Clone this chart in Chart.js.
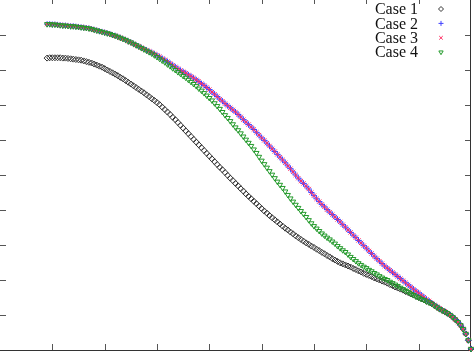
<!DOCTYPE html>
<html>
<head>
<meta charset="utf-8">
<script src="https://cdn.jsdelivr.net/npm/chart.js@4.4.1/dist/chart.umd.min.js"></script>
<style>
  html, body { margin: 0; padding: 0; background: #fff; }
  canvas { display: block; }
</style>
</head>
<body>
<canvas id="chart" width="474" height="353"></canvas>
<script>
// Sample positions along x (shared by all cases)
const xValues = [
    0.90, 0.95, 1.00, 1.05, 1.10, 1.15, 1.20, 1.25, 1.30, 1.35, 1.40, 1.45, 1.50, 1.55, 1.60, 1.65, 1.70, 1.75, 1.80, 1.85, 1.90, 1.95,
    2.00, 2.05, 2.10, 2.15, 2.20, 2.25, 2.30, 2.35, 2.40, 2.45, 2.50, 2.55, 2.60, 2.65, 2.70, 2.75, 2.80, 2.85, 2.90, 2.95,
    3.00, 3.05, 3.10, 3.15, 3.20, 3.25, 3.30, 3.35, 3.40, 3.45, 3.50, 3.55, 3.60, 3.65, 3.70, 3.75, 3.80, 3.85, 3.90, 3.95,
    4.00, 4.05, 4.10, 4.15, 4.20, 4.25, 4.30, 4.35, 4.40, 4.45, 4.50, 4.55, 4.60, 4.65, 4.70, 4.75, 4.80, 4.85, 4.90, 4.95,
    5.00, 5.05, 5.10, 5.15, 5.20, 5.25, 5.30, 5.35, 5.40, 5.45, 5.50, 5.55, 5.60, 5.65, 5.70, 5.75, 5.80, 5.85, 5.90, 5.95,
    6.00, 6.05, 6.10, 6.15, 6.20, 6.25, 6.30, 6.35, 6.40, 6.45, 6.50, 6.55, 6.60, 6.65, 6.70, 6.75, 6.80, 6.85, 6.90, 6.95,
    7.00, 7.05, 7.10, 7.15, 7.20, 7.25, 7.30, 7.35, 7.40, 7.45, 7.50, 7.55, 7.60, 7.65, 7.70, 7.75, 7.80, 7.85, 7.90, 7.95,
    8.00, 8.05, 8.10, 8.15, 8.20, 8.25, 8.30, 8.35, 8.40, 8.45, 8.50, 8.55, 8.60, 8.65, 8.70, 8.75, 8.80, 8.85, 8.90, 8.95,
    9.00
];

const case1Y = [
    8.34, 8.35, 8.35, 8.35, 8.35, 8.35, 8.34, 8.34, 8.33, 8.32, 8.31, 8.30, 8.29, 8.28, 8.26, 8.24, 8.22, 8.20, 8.17, 8.14, 8.11, 8.08,
    8.04, 8.00, 7.96, 7.92, 7.88, 7.84, 7.79, 7.75, 7.70, 7.65, 7.60, 7.55, 7.50, 7.45, 7.40, 7.35, 7.29, 7.24, 7.18, 7.13,
    7.07, 7.01, 6.94, 6.87, 6.80, 6.73, 6.65, 6.58, 6.50, 6.42, 6.34, 6.26, 6.18, 6.10, 6.02, 5.94, 5.86, 5.78, 5.70, 5.62,
    5.54, 5.46, 5.38, 5.30, 5.22, 5.15, 5.07, 4.99, 4.91, 4.84, 4.76, 4.69, 4.61, 4.54, 4.46, 4.39, 4.32, 4.25, 4.18, 4.11,
    4.04, 3.97, 3.91, 3.84, 3.78, 3.72, 3.66, 3.60, 3.54, 3.48, 3.43, 3.37, 3.32, 3.26, 3.21, 3.16, 3.11, 3.06, 3.02, 2.97,
    2.93, 2.88, 2.84, 2.79, 2.75, 2.70, 2.66, 2.61, 2.57, 2.53, 2.49, 2.46, 2.43, 2.40, 2.37, 2.33, 2.30, 2.26, 2.23, 2.19,
    2.16, 2.13, 2.10, 2.06, 2.03, 2.00, 1.97, 1.94, 1.91, 1.87, 1.84, 1.80, 1.77, 1.74, 1.71, 1.67, 1.64, 1.60, 1.57, 1.53,
    1.50, 1.46, 1.43, 1.39, 1.36, 1.32, 1.27, 1.22, 1.17, 1.13, 1.09, 1.05, 1.00, 0.94, 0.87, 0.80, 0.71, 0.60, 0.46, 0.28,
    0.03
];

const case2Y = [
    9.31, 9.31, 9.30, 9.30, 9.29, 9.28, 9.27, 9.27, 9.26, 9.25, 9.25, 9.24, 9.23, 9.22, 9.21, 9.20, 9.19, 9.17, 9.15, 9.13, 9.11, 9.09,
    9.07, 9.05, 9.03, 9.00, 8.98, 8.95, 8.92, 8.89, 8.86, 8.82, 8.79, 8.75, 8.71, 8.68, 8.64, 8.60, 8.57, 8.53, 8.50, 8.46,
    8.42, 8.38, 8.33, 8.29, 8.24, 8.19, 8.14, 8.09, 8.04, 7.99, 7.95, 7.91, 7.86, 7.82, 7.77, 7.72, 7.67, 7.61, 7.56, 7.50,
    7.44, 7.37, 7.31, 7.24, 7.17, 7.11, 7.04, 6.98, 6.92, 6.86, 6.80, 6.73, 6.66, 6.58, 6.51, 6.44, 6.37, 6.30, 6.22, 6.14,
    6.06, 5.99, 5.91, 5.83, 5.75, 5.67, 5.59, 5.51, 5.43, 5.35, 5.26, 5.18, 5.09, 5.00, 4.91, 4.83, 4.76, 4.68, 4.60, 4.50,
    4.41, 4.32, 4.24, 4.16, 4.09, 4.01, 3.94, 3.87, 3.80, 3.73, 3.66, 3.58, 3.51, 3.43, 3.36, 3.28, 3.21, 3.13, 3.06, 2.98,
    2.91, 2.83, 2.76, 2.68, 2.61, 2.54, 2.47, 2.40, 2.34, 2.28, 2.22, 2.16, 2.10, 2.04, 1.98, 1.92, 1.86, 1.80, 1.74, 1.68,
    1.63, 1.57, 1.51, 1.45, 1.40, 1.34, 1.29, 1.24, 1.19, 1.14, 1.10, 1.05, 1.00, 0.94, 0.87, 0.80, 0.71, 0.60, 0.46, 0.28,
    0.03
];

// Case 3 lies on top of case 2 over the whole range
const case3Y = [
    9.31, 9.31, 9.30, 9.30, 9.29, 9.28, 9.27, 9.27, 9.26, 9.25, 9.25, 9.24, 9.23, 9.22, 9.21, 9.20, 9.19, 9.17, 9.15, 9.13, 9.11, 9.09,
    9.07, 9.05, 9.03, 9.00, 8.98, 8.95, 8.92, 8.89, 8.86, 8.82, 8.79, 8.75, 8.71, 8.68, 8.64, 8.60, 8.57, 8.53, 8.50, 8.46,
    8.42, 8.38, 8.33, 8.29, 8.24, 8.19, 8.14, 8.09, 8.04, 7.99, 7.95, 7.91, 7.86, 7.82, 7.77, 7.72, 7.67, 7.61, 7.56, 7.50,
    7.44, 7.37, 7.31, 7.24, 7.17, 7.11, 7.04, 6.98, 6.92, 6.86, 6.80, 6.73, 6.66, 6.58, 6.51, 6.44, 6.37, 6.30, 6.22, 6.14,
    6.06, 5.99, 5.91, 5.83, 5.75, 5.67, 5.59, 5.51, 5.43, 5.35, 5.26, 5.18, 5.09, 5.00, 4.91, 4.83, 4.76, 4.68, 4.60, 4.50,
    4.41, 4.32, 4.24, 4.16, 4.09, 4.01, 3.94, 3.87, 3.80, 3.73, 3.66, 3.58, 3.51, 3.43, 3.36, 3.28, 3.21, 3.13, 3.06, 2.98,
    2.91, 2.83, 2.76, 2.68, 2.61, 2.54, 2.47, 2.40, 2.34, 2.28, 2.22, 2.16, 2.10, 2.04, 1.98, 1.92, 1.86, 1.80, 1.74, 1.68,
    1.63, 1.57, 1.51, 1.45, 1.40, 1.34, 1.29, 1.24, 1.19, 1.14, 1.10, 1.05, 1.00, 0.94, 0.87, 0.80, 0.71, 0.60, 0.46, 0.28,
    0.03
];

const case4Y = [
    9.31, 9.31, 9.30, 9.30, 9.29, 9.28, 9.27, 9.27, 9.26, 9.25, 9.25, 9.24, 9.23, 9.22, 9.21, 9.20, 9.19, 9.17, 9.15, 9.13, 9.11, 9.09,
    9.07, 9.05, 9.03, 9.00, 8.98, 8.95, 8.92, 8.89, 8.86, 8.82, 8.79, 8.75, 8.71, 8.67, 8.63, 8.59, 8.55, 8.51, 8.47, 8.42,
    8.37, 8.32, 8.27, 8.22, 8.16, 8.11, 8.05, 8.00, 7.94, 7.89, 7.83, 7.78, 7.72, 7.66, 7.60, 7.54, 7.47, 7.41, 7.34, 7.27,
    7.20, 7.13, 7.05, 6.97, 6.89, 6.80, 6.71, 6.63, 6.54, 6.45, 6.36, 6.28, 6.19, 6.10, 6.01, 5.92, 5.83, 5.73, 5.63, 5.52,
    5.41, 5.31, 5.21, 5.11, 5.01, 4.91, 4.81, 4.72, 4.63, 4.53, 4.43, 4.33, 4.24, 4.15, 4.06, 3.97, 3.89, 3.80, 3.71, 3.62,
    3.54, 3.47, 3.40, 3.33, 3.27, 3.21, 3.16, 3.10, 3.04, 2.97, 2.91, 2.85, 2.80, 2.73, 2.66, 2.60, 2.54, 2.48, 2.43, 2.38,
    2.34, 2.29, 2.25, 2.20, 2.16, 2.11, 2.07, 2.03, 2.00, 1.95, 1.91, 1.87, 1.83, 1.78, 1.74, 1.70, 1.66, 1.61, 1.57, 1.53,
    1.50, 1.46, 1.43, 1.39, 1.36, 1.32, 1.27, 1.22, 1.17, 1.13, 1.09, 1.05, 1.00, 0.94, 0.87, 0.80, 0.71, 0.60, 0.46, 0.28,
    0.03
];

const seriesLabels = ['Case 1', 'Case 2', 'Case 3', 'Case 4'];

// Tick positions (the picture shows no tick labels, only tick marks)
const xTicks = [1, 2, 3, 4, 5, 6, 7, 8];
const yTicks = [1, 2, 3, 4, 5, 6, 7, 8, 9];

function toPoints(ys) {
    return xValues.map((x, i) => ({ x: x, y: ys[i] }));
}

// gnuplot-like frame: tick marks pointing inward, left/top border cropped off
const frameTicks = {
    id: 'frameTicks',
    beforeDatasetsDraw(chart) {
        const { ctx, chartArea: a, scales } = chart;
        const len = 6;
        ctx.save();
        ctx.strokeStyle = '#555';
        ctx.lineWidth = 1;
        ctx.beginPath();
        xTicks.forEach(v => {
            const px = Math.round(scales.x.getPixelForValue(v)) + 0.5;
            ctx.moveTo(px, a.bottom); ctx.lineTo(px, a.bottom - len);
            ctx.moveTo(px, a.top); ctx.lineTo(px, a.top + len - 2);
        });
        yTicks.forEach(v => {
            const py = Math.round(scales.y.getPixelForValue(v)) + 0.5;
            ctx.moveTo(a.left, py); ctx.lineTo(a.left + len, py);
            ctx.moveTo(a.right, py); ctx.lineTo(a.right - len, py);
        });
        ctx.stroke();
        ctx.strokeStyle = '#333';
        ctx.beginPath();
        ctx.moveTo(a.left, a.bottom + 0.5);
        ctx.lineTo(a.right - 0.5, a.bottom + 0.5);
        ctx.lineTo(a.right - 0.5, a.top);
        ctx.stroke();
        ctx.restore();
    }
};

// Key in the top right corner: text first, symbol to the right of it
const keyBox = {
    id: 'keyBox',
    afterDraw(chart) {
        const ctx = chart.ctx;
        const textRight = 418;
        const symbolX = 441;
        const rowTop = 9;
        const rowStep = 14.4;
        ctx.save();
        ctx.font = '16px "Liberation Serif", "DejaVu Serif", serif';
        ctx.textAlign = 'right';
        ctx.textBaseline = 'middle';
        chart.data.datasets.forEach((ds, i) => {
            const y = rowTop + i * rowStep;
            ctx.fillStyle = '#111';
            ctx.fillText(ds.label, textRight, y + 1);
            ctx.strokeStyle = ds.borderColor;
            ctx.fillStyle = 'rgba(0,0,0,0)';
            ctx.lineWidth = 1;
            Chart.helpers.drawPoint(ctx, {
                pointStyle: ds.pointStyle,
                radius: 2.5,
                rotation: ds.pointRotation || 0,
                borderWidth: 1
            }, symbolX, y);
        });
        ctx.restore();
    }
};

const ctx = document.getElementById('chart').getContext('2d');

new Chart(ctx, {
    type: 'scatter',
    data: {
        datasets: [
            {
                label: seriesLabels[0],
                data: toPoints(case1Y),
                pointStyle: 'rectRot',
                pointRadius: 3,
                borderColor: '#333',
                backgroundColor: 'rgba(0,0,0,0)',
                borderWidth: 1,
                order: 3,
                clip: false
            },
            {
                label: seriesLabels[1],
                data: toPoints(case2Y),
                pointStyle: 'cross',
                pointRadius: 3,
                borderColor: '#4040ff',
                backgroundColor: 'rgba(0,0,0,0)',
                borderWidth: 1,
                order: 2,
                clip: false
            },
            {
                label: seriesLabels[2],
                data: toPoints(case3Y),
                pointStyle: 'crossRot',
                pointRadius: 3,
                borderColor: '#ff2a60',
                backgroundColor: 'rgba(0,0,0,0)',
                borderWidth: 1,
                order: 1,
                clip: false
            },
            {
                label: seriesLabels[3],
                data: toPoints(case4Y),
                pointStyle: 'triangle',
                pointRotation: 180,
                pointRadius: 3,
                borderColor: '#22992a',
                backgroundColor: 'rgba(0,0,0,0)',
                borderWidth: 1,
                order: 0,
                clip: false
            }
        ]
    },
    options: {
        responsive: false,
        animation: false,
        devicePixelRatio: 1,
        layout: { autoPadding: false, padding: { left: 0, top: 0, right: 3, bottom: 3 } },
        plugins: {
            legend: { display: false },
            tooltip: { enabled: false }
        },
        scales: {
            x: { type: 'linear', min: 0, max: 9, display: false },
            y: { type: 'linear', min: 0, max: 10, display: false }
        }
    },
    plugins: [frameTicks, keyBox]
});
</script>
</body>
</html>
